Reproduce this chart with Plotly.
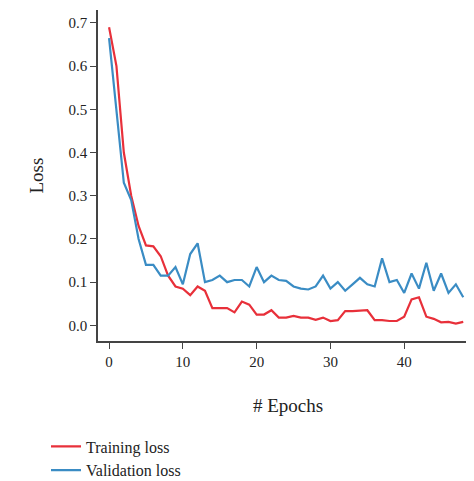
import plotly.graph_objects as go

epochs = list(range(49))
training_loss = [0.69, 0.60, 0.40, 0.30, 0.23, 0.185, 0.183, 0.16, 0.115, 0.09,
                 0.085, 0.07, 0.09, 0.08, 0.04, 0.04, 0.04, 0.03, 0.055, 0.048,
                 0.025, 0.025, 0.035, 0.018, 0.018, 0.022, 0.018, 0.018, 0.013, 0.018,
                 0.01, 0.012, 0.033, 0.033, 0.034, 0.035, 0.012, 0.012, 0.01, 0.01,
                 0.02, 0.06, 0.065, 0.02, 0.015, 0.007, 0.008, 0.004, 0.008]
validation_loss = [0.665, 0.50, 0.33, 0.29, 0.20, 0.14, 0.14, 0.115, 0.115, 0.135,
                   0.095, 0.165, 0.19, 0.10, 0.105, 0.115, 0.10, 0.105, 0.105, 0.09,
                   0.135, 0.10, 0.115, 0.105, 0.103, 0.09, 0.085, 0.083, 0.09, 0.115,
                   0.085, 0.10, 0.08, 0.095, 0.11, 0.095, 0.09, 0.155, 0.10, 0.105,
                   0.075, 0.12, 0.085, 0.145, 0.08, 0.12, 0.075, 0.095, 0.065]

fig = go.Figure([
    go.Scatter(x=epochs, y=training_loss, mode="lines", name="Training loss",
               line=dict(color="#e8303a", width=2.2)),
    go.Scatter(x=epochs, y=validation_loss, mode="lines", name="Validation loss",
               line=dict(color="#3a8cc4", width=2.2)),
])
axis = dict(showline=True, linecolor="#444", linewidth=1.5, ticks="outside",
            ticklen=6, tickcolor="#444", showgrid=False, zeroline=False,
            tickfont=dict(size=15, color="#222"))
fig.update_layout(
    width=474, height=481,
    margin=dict(l=70, r=4, t=2, b=8),
    plot_bgcolor="white", paper_bgcolor="white",
    font=dict(family="Liberation Serif", size=16, color="#222"),
    xaxis=dict(axis, title=dict(text="# Epochs", standoff=30), range=[-1.5, 50],
               tickvals=[0, 10, 20, 30, 40, 50]),
    yaxis=dict(axis, title=dict(text="Loss", standoff=20), range=[-0.037, 0.73],
               tickvals=[0, 0.1, 0.2, 0.3, 0.4, 0.5, 0.6, 0.7], tickformat=".1f"),
    legend=dict(x=-0.08, y=0.1, xanchor="left", yanchor="top",
                font=dict(size=16), tracegroupgap=8),
)
fig.update_xaxes(domain=[0.05, 1])
fig.update_yaxes(domain=[0.289, 1])
fig.write_html("out.html")
